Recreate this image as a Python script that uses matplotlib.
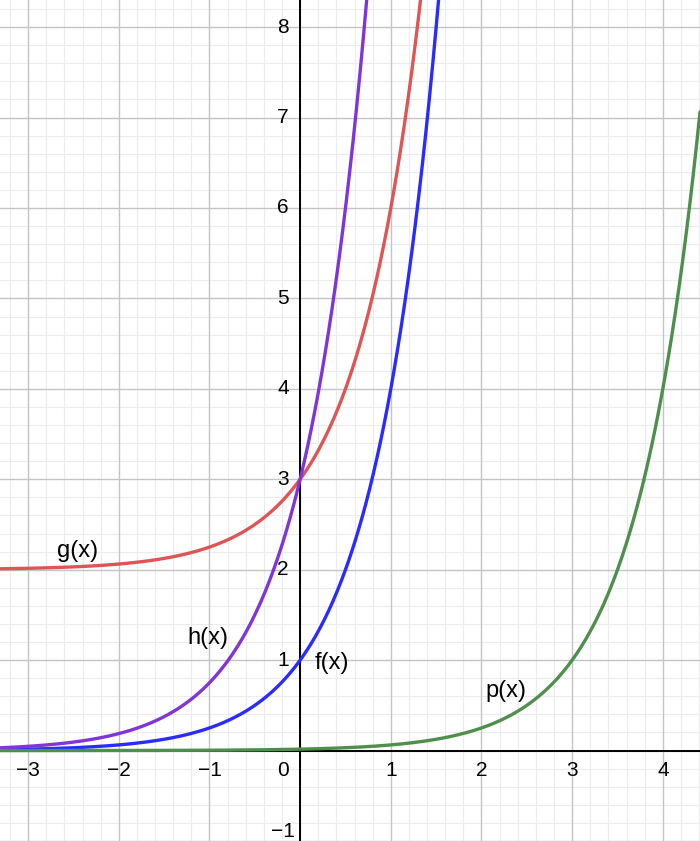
import numpy as np
import matplotlib.pyplot as plt

plt.rcParams['font.family'] = ['Liberation Sans', 'DejaVu Sans']

# curves y = scale * base**(x - shift) + offset
names = ['f(x)', 'g(x)', 'h(x)', 'p(x)']
bases = [4, 4, 4, 4]
scales = [1, 1, 3, 1]
shifts = [0, 0, 0, 3]
offsets = [0, 2, 0, 0]
colors = ['#2b2bff', '#dd5555', '#7f35d8', '#4e8f4e']
label_x = [0.35, -2.45, -1.02, 2.27]
label_y = [0.97, 2.21, 1.25, 0.66]

xticks = [-3, -2, -1, 1, 2, 3, 4]
yticks = [1, 2, 3, 4, 5, 6, 7, 8]

xmin, xmax = -3.31, 4.41
ymin, ymax = -1.0, 8.3

fig = plt.figure(figsize=(7, 8.41), dpi=100)
ax = fig.add_axes([0, 0, 1, 1])
ax.set_xlim(xmin, xmax)
ax.set_ylim(ymin, ymax)
ax.axis('off')

# grid
for v in np.arange(-3.2, 4.41, 0.2):
    if abs(v - round(v)) > 1e-6:
        ax.axvline(v, color='#ececec', lw=0.8, zorder=0)
for v in np.arange(-1.0, 8.31, 0.2):
    if abs(v - round(v)) > 1e-6:
        ax.axhline(v, color='#ececec', lw=0.8, zorder=0)
for v in range(-3, 5):
    ax.axvline(v, color='#c4c4c4', lw=1.0, zorder=1)
for v in range(-1, 9):
    ax.axhline(v, color='#c4c4c4', lw=1.0, zorder=1)

ax.axhline(0, color='black', lw=1.4, zorder=2)
ax.axvline(0, color='black', lw=1.4, zorder=2)

x = np.linspace(xmin, xmax, 800)
for n, b, s, sh, o, c, lx, ly in zip(names, bases, scales, shifts, offsets, colors, label_x, label_y):
    y = s * b ** (x - sh) + o
    ax.plot(x, y, color=c, lw=2.4, zorder=3, solid_capstyle='round')
    ax.text(lx, ly, n, fontsize=17, ha='center', va='center', zorder=4)

for t in xticks:
    ax.text(t, -0.22, '\u2212%d' % -t if t < 0 else str(t), fontsize=15,
            ha='center', va='center', zorder=4)
ax.text(-0.19, -0.22, '0', fontsize=15, ha='center', va='center', zorder=4)
for t in yticks:
    ax.text(-0.19, t, str(t), fontsize=15, ha='center', va='center', zorder=4)
ax.text(-0.19, -0.995, '\u22121', fontsize=15, ha='center', va='bottom', zorder=4)

fig.savefig('out.png', dpi=100)
